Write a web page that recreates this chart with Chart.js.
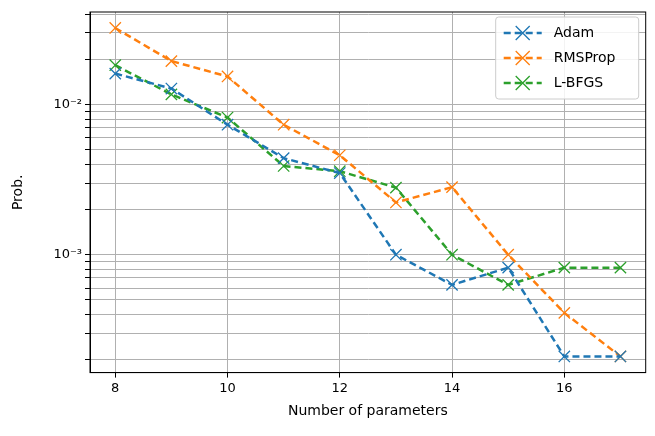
<!DOCTYPE html><html><head><script src="https://cdn.jsdelivr.net/npm/chart.js@4"></script>
<style>body{margin:0;background:#fff}</style></head><body>
<div style="width:655px;height:436px"><canvas id="c"></canvas></div>
<script>
const xValues=[8,9,10,11,12,13,14,15,16,17];
const adam=[0.0161,0.0128,0.00735,0.0044,0.0035,0.001,0.00063,0.00082,0.00021,0.00021];
const rmsprop=[0.0324,0.0195,0.0154,0.00735,0.0046,0.00223,0.00282,0.001,0.00041,0.00021];
const lbfgs=[0.0183,0.0117,0.0082,0.0039,0.0036,0.0028,0.001,0.00063,0.00082,0.00082];
const xTicks=[8,10,12,14,16];
const names=['Adam','RMSProp','L-BFGS'];
const colors=['#1f77b4','#ff7f0e','#2ca02c'];
const series=[adam,rmsprop,lbfgs];
const ds=series.map((s,i)=>({label:names[i],data:xValues.map((x,j)=>({x,y:s[j]})),borderColor:colors[i],backgroundColor:colors[i],borderWidth:2.5,borderDash:[7,4],pointStyle:'crossRot',pointRadius:8,pointBorderWidth:1.3,fill:false,tension:0}));
const legendPlug={id:'lg',afterDraw(ch){const c=ch.ctx;const a=ch.chartArea;
c.save();c.strokeStyle='#000';c.lineWidth=1;c.strokeRect(a.left,a.top,a.right-a.left,a.bottom-a.top);
const x0=a.right-150,y0=a.top+5,w=143,h=82;
c.fillStyle='rgba(255,255,255,0.85)';c.strokeStyle='#ccc';c.beginPath();c.roundRect(x0,y0,w,h,3);c.fill();c.stroke();
names.forEach((n,i)=>{const y=y0+16+i*25;c.strokeStyle=colors[i];c.lineWidth=2.5;c.setLineDash([7,4]);c.beginPath();c.moveTo(x0+8,y);c.lineTo(x0+46,y);c.stroke();c.setLineDash([]);c.lineWidth=1.3;c.beginPath();c.moveTo(x0+20,y-7);c.lineTo(x0+34,y+7);c.moveTo(x0+34,y-7);c.lineTo(x0+20,y+7);c.stroke();
c.fillStyle='#000';c.font='14px "DejaVu Sans"';c.textBaseline='middle';c.fillText(n,x0+58,y);});c.restore();}};
new Chart(document.getElementById('c'),{type:'line',data:{datasets:ds},plugins:[legendPlug],
options:{responsive:true,maintainAspectRatio:false,animation:false,layout:{padding:{top:12,right:5,left:6,bottom:12}},
plugins:{legend:{display:false},tooltip:{enabled:false}},
scales:{x:{type:'linear',min:7.55,max:17.45,afterBuildTicks(s){s.ticks=xTicks.map(v=>({value:v}));},
grid:{color:'#b0b0b0',tickLength:5,tickColor:'#000'},border:{color:'#000'},
ticks:{color:'#000',font:{size:13,family:'DejaVu Sans'}},title:{display:true,text:'Number of parameters',color:'#000',font:{size:14,family:'DejaVu Sans'}}},
y:{type:'logarithmic',min:1.64e-4,max:0.0414,afterFit(s){s.width=84;},
afterBuildTicks(s){const t=[];for(let e=-4;e<=-2;e++)for(let m=1;m<10;m++){const v=m*Math.pow(10,e);if(v>=1.64e-4&&v<=0.0414)t.push({value:v,major:m===1});}s.ticks=t;},
grid:{color:'#b0b0b0',tickLength:5,tickColor:'#000'},border:{color:'#000'},
ticks:{color:'#000',autoSkip:false,font:{size:13,family:'DejaVu Sans'},callback(v){const e=Math.round(Math.log10(v));if(Math.abs(v-Math.pow(10,e))/v<1e-6)return '10'+(e===-2?'⁻²':'⁻³');return '';}},
title:{display:true,text:'Prob.',color:'#000',font:{size:14,family:'DejaVu Sans'}}}}}});
</script></body></html>
